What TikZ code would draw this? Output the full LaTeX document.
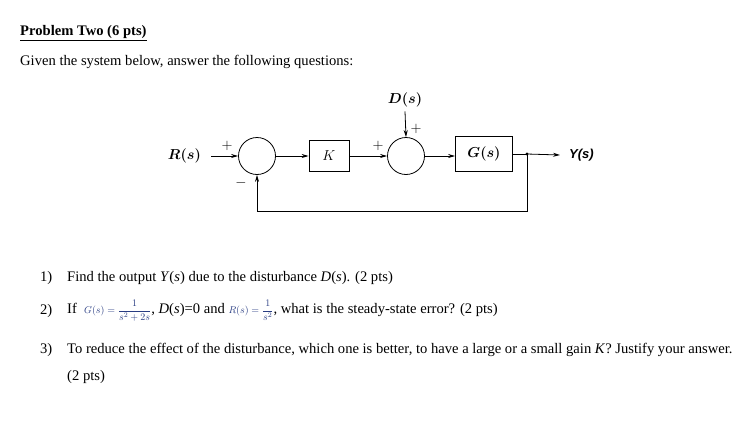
\documentclass[tikz,border=0pt]{standalone}
\usepackage{amsmath,bm}
\usepackage{fontspec}
\setmainfont{Liberation Serif}
\newfontfamily\arialf{Liberation Sans}
\usetikzlibrary{arrows.meta}
\definecolor{eqblue}{RGB}{40,60,130}
\begin{document}
\begin{tikzpicture}[x=1pt,y=-1pt,
  txt/.style={anchor=west,inner sep=0pt,font=\fontsize{14.6}{16}\selectfont},
  lab/.style={inner sep=1pt,font=\fontsize{14.6}{16}\selectfont},
  sumc/.style={draw,circle,minimum size=37pt,inner sep=0pt,line width=0.8pt},
  blk/.style={draw,minimum width=40pt,minimum height=31pt,inner sep=0pt,line width=0.8pt},
  sig/.style={line width=0.8pt,-{Stealth[length=7pt,width=4pt]}},
  ln/.style={line width=0.8pt}]
\useasboundingbox (0,0) rectangle (756,432);
\node[txt,font=\bfseries\fontsize{14.6}{16}\selectfont] (title) at (20,33) {\underline{Problem Two (6 pts)}};
\node[txt] (given) at (20,62) {Given the system below, answer the following questions:};
% diagram
\node[lab,anchor=east] (R) at (202,156) {$\bm{R(s)}$};
\node[sumc] (s1) at (257,156) {};
\node[blk,lab,minimum width=40pt,minimum height=31pt] (K) at (329,156) {$K$};
\node[sumc] (s2) at (406,156) {};
\node[lab] (D) at (405,100) {$\bm{D(s)}$};
\node[blk,lab,minimum width=57pt,minimum height=35pt] (G) at (484,154) {$\bm{G(s)}$};
\coordinate (j) at (527,154);
\node[anchor=west,inner sep=1pt,font=\fontsize{13}{15}\selectfont] (Y) at (568,155) {\arialf\bfseries\itshape Y(s)};
\coordinate (fb) at (527,211);
\coordinate (fb2) at (257,211);
\draw[sig] ([xshift=9pt]R.east) -- (s1.west);
\draw[sig] (s1.east) -- (K.west);
\draw[sig] (K.east) -- (s2.west);
\draw[sig] ([yshift=-3pt]D.south) -- (s2.north);
\draw[sig] (s2.east) -- (G.west |- s2.east);
\draw[ln] (G.east |- j) -- (j);
\draw[sig] (j) -- ([xshift=-8pt]Y.west);
\fill (j) circle (1.6pt);
\draw[ln] (j) -- (fb) -- (fb2);
\draw[sig] (fb2) -- (s1.south);
\node[lab] (p1) at (227,146) {$+$};
\node[lab] (m1) at (241,183) {$-$};
\node[lab] (p2) at (378,146) {$+$};
\node[lab] (p3) at (416,129) {$+$};
% questions
\node[txt] (q1n) at (40,278) {1)};
\node[txt] (q1) at (67,278) {Find the output \textit{Y}(\textit{s}) due to the disturbance \textit{D}(\textit{s}). (2 pts)};
\node[txt] (q2n) at (40,311) {2)};
\node[txt] (q2) at (67,311) {If\ \ {\arialf\color{eqblue}\fontsize{10}{11}\selectfont $G(s)=\dfrac{1}{s^2+2s}$}, \textit{D}(\textit{s})=0 and {\arialf\color{eqblue}\fontsize{10}{11}\selectfont $R(s)=\dfrac{1}{s^2}$}, what is the steady-state error? (2 pts)};
\node[txt] (q3n) at (40,350) {3)};
\node[txt] (q3) at (67,350) {To reduce the effect of the disturbance, which one is better, to have a large or a small gain \textit{K}? Justify your answer.};
\node[txt] (q3b) at (67,377) {(2 pts)};
\end{tikzpicture}
\end{document}
